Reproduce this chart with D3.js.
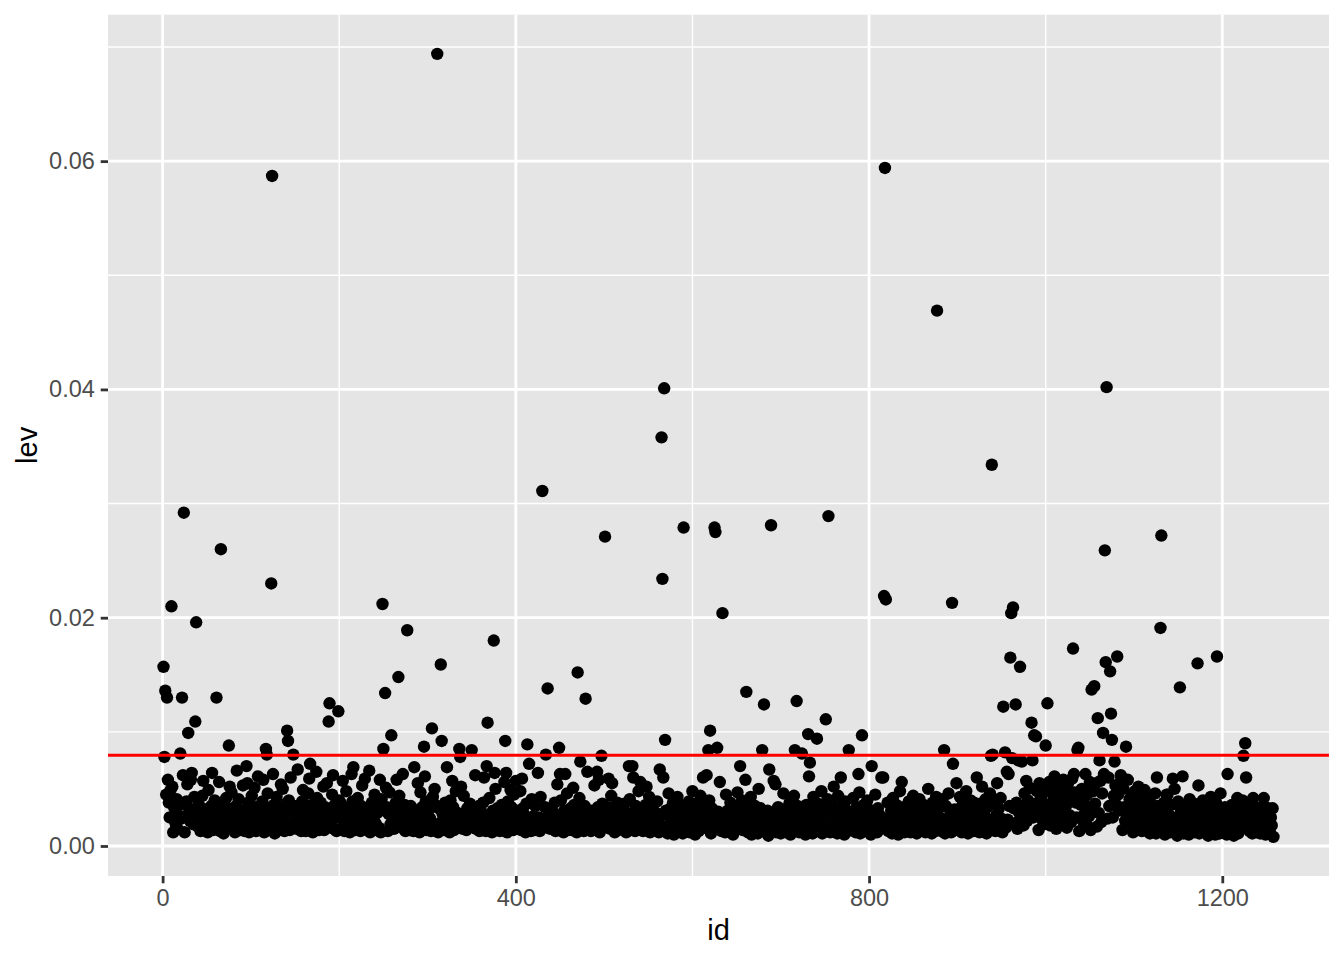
<!DOCTYPE html>
<html>
<head>
<meta charset="utf-8">
<script src="https://cdn.jsdelivr.net/npm/d3@7"></script>
<style>
  body { margin: 0; background: #fff; }
  text { font-family: "Liberation Sans", Arial, sans-serif; }
</style>
</head>
<body>
<svg id="chart" width="1344" height="960"></svg>
<script>
// leverage of the bulk of observations, ids 1..1258, in units of 1e-4
const bandLev = [
  32,18,27,45,21,58,38,25,49,29,52,12,34,22,19,41,15,27,36,63,
  24,48,62,31,12,26,39,54,15,33,22,58,14,28,19,43,25,11,30,17,
  36,21,13,27,44,57,24,15,32,20,12,49,26,17,35,64,14,29,40,19,
  15,30,22,56,13,61,18,37,11,28,21,42,16,33,24,52,26,47,19,31,
  27,12,35,66,16,41,23,14,29,18,53,22,13,32,25,55,38,12,27,21,
  44,16,28,51,34,13,24,61,18,30,15,26,39,58,12,33,23,17,46,14,
  22,31,15,27,63,36,11,25,43,19,29,14,34,54,16,50,24,13,28,37,
  17,26,40,14,60,31,19,12,35,22,28,15,57,18,30,24,13,39,49,27,
  33,13,25,18,46,59,15,29,36,12,24,19,32,65,42,27,14,22,38,17,
  28,52,14,34,23,55,16,27,12,31,19,45,62,15,36,25,13,29,18,40,
  15,37,24,57,30,13,26,48,17,22,33,12,28,63,39,16,25,14,31,21,
  42,18,27,13,35,53,16,30,59,19,24,14,33,66,12,27,38,17,25,45,
  20,14,29,36,16,58,12,41,26,18,31,15,51,34,13,28,47,19,24,17,
  30,15,23,38,58,27,12,44,21,33,16,25,19,36,13,29,52,18,24,14,
  35,20,28,13,41,23,16,31,55,26,12,47,22,34,15,27,61,39,14,25,
  17,32,24,13,29,43,18,50,36,15,26,12,33,20,55,16,28,23,14,38,
  22,16,31,27,12,40,19,57,34,14,21,48,17,29,23,13,36,52,26,15,
  44,19,27,14,33,21,16,37,24,12,30,18,25,62,15,28,20,35,13,23,
  16,29,38,60,22,13,34,26,15,42,20,27,12,31,18,24,50,14,33,21,
  27,13,24,36,17,30,56,15,28,12,39,19,25,49,34,21,14,45,23,18,
  31,20,15,26,48,14,59,33,18,27,12,37,21,16,29,24,13,41,19,26,
  14,35,22,17,30,25,13,43,19,28,16,24,34,12,21,57,18,27,15,32,
  24,16,29,38,13,22,54,18,33,15,40,20,26,12,31,63,23,46,14,28,
  19,33,14,25,51,36,16,29,12,24,18,42,27,15,30,22,13,35,20,17,
  39,22,17,28,13,31,24,15,53,19,26,14,34,58,12,29,23,37,16,25,
  13,27,21,34,18,25,15,44,55,16,30,12,26,19,38,14,28,21,17,32,
  26,15,37,20,12,29,23,17,41,14,25,31,60,22,13,35,27,16,48,20,
  18,31,24,13,28,16,36,52,15,27,43,12,24,19,33,17,22,14,29,39,
  24,12,35,18,29,9,41,22,15,31,27,11,46,19,33,14,25,38,10,21,
  30,16,43,23,13,36,20,28,11,52,17,26,34,14,22,39,12,31,18,48,
  15,27,10,37,21,32,13,24,44,18,29,9,35,16,26,62,20,14,40,23,
  11,33,19,28,14,41,22,10,30,17,56,25,13,36,20,27,12,45,18,31,
  26,13,38,16,24,10,34,21,29,15,47,19,32,11,25,40,14,22,17,58,
  20,36,12,27,17,43,10,30,23,14,35,19,26,11,50,21,33,16,28,13,
  39,15,24,18,31,9,42,22,13,29,16,37,20,54,12,26,34,17,23,11,
  28,14,46,19,25,12,33,21,16,38,10,27,23,15,44,18,30,13,35,20,
  12,31,17,40,22,14,28,10,36,19,26,65,15,32,21,11,43,24,16,29,
  18,37,13,25,20,48,11,30,16,34,23,14,41,19,27,12,38,22,15,52,
  33,16,26,11,44,21,29,14,35,18,24,10,39,20,31,13,57,23,17,27,
  14,42,19,28,12,34,22,16,47,11,30,25,18,36,13,26,20,40,15,32,
  23,10,37,17,29,14,45,21,12,33,19,27,15,60,24,11,35,18,28,16,
  38,13,25,20,31,11,42,17,26,14,36,22,10,29,48,16,24,19,34,12,
  27,18,33,14,39,21,12,30,16,44,23,15,35,11,26,20,41,13,28,17,
  15,36,22,12,28,18,50,14,31,24,11,38,19,27,13,43,21,16,33,25,
  20,13,41,17,30,11,35,23,15,46,19,28,12,37,22,16,32,14,55,26,
  31,15,43,22,12,36,19,27,14,48,24,11,33,17,40,21,29,13,38,18,
  25,45,16,30,12,37,22,52,15,28,19,41,11,34,23,17,46,26,14,32,
  20,39,13,27,55,18,33,15,42,24,12,36,21,29,16,48,23,11,35,19,
  44,27,58,33,20,49,38,15,62,29,41,24,53,35,18,46,31,57,22,40,
  28,51,36,17,45,25,60,32,21,48,38,14,55,30,43,23,50,19,36,64,
  26,42,33,56,18,47,29,39,22,61,34,15,45,28,52,37,20,43,31,58,
  24,49,35,16,54,40,27,44,21,59,32,18,47,38,25,53,30,13,42,36,
  50,22,39,28,63,19,45,34,26,56,14,41,31,48,23,37,55,17,44,29,
  33,57,21,46,38,15,52,27,42,24,60,35,19,49,30,25,44,16,53,36,
  20,43,31,55,26,39,14,50,34,22,47,28,58,18,41,32,24,45,12,37,
  48,27,35,17,52,30,23,44,13,39,26,49,20,34,15,42,28,11,37,22,
  14,31,20,42,11,26,35,17,23,48,13,29,19,38,10,33,22,45,16,27,
  12,36,21,28,15,50,18,25,9,39,23,14,32,20,44,11,27,17,34,13,
  26,10,41,19,30,14,22,37,12,28,16,47,20,11,33,24,15,40,18,29,
  13,35,21,9,27,17,43,12,31,19,25,10,38,15,23,30,11,46,20,16,
  28,13,34,18,10,40,22,15,26,12,36,19,9,31,14,24,42,11,29,17,
  21,33,12,27,16,38,10,25,18,30,13,22,35,11,20,28,14,34,12,24,
  17,30,11,26,19,35,13,22,10,28,15,33,20,12,25,18,14,8
];

// observations standing out from the band
const peakIds = [
  1, 2, 3, 5, 10, 20, 22, 24, 29, 33, 37, 38, 61, 66, 75, 95, 117, 118, 123, 124,
  141, 142, 148, 153, 167, 188, 189, 199, 216, 249, 250, 252, 259, 267, 272, 277,
  285, 296, 305, 311, 315, 316, 322, 336, 337, 350, 367, 368, 375, 376, 388, 389,
  400, 413, 415, 425, 430, 434, 436, 449, 450, 470, 473, 479, 481, 492, 497, 501,
  505, 528, 532, 541, 563, 565, 566, 567, 568, 569, 590, 612, 618, 620, 625, 626,
  628, 634, 654, 661, 679, 681, 687, 689, 692, 716, 718, 724, 731, 732, 733, 741,
  751, 754, 768, 777, 788, 792, 803, 816, 817, 818, 819, 837, 877, 885, 894, 895,
  922, 938, 939, 940, 952, 954, 956, 958, 960, 961, 962, 963, 966, 969, 971, 973,
  984, 985, 987, 989, 1000, 1002, 1031, 1032, 1036, 1037, 1052, 1055, 1059, 1061,
  1065, 1066, 1067, 1068, 1069, 1073, 1074, 1075, 1078, 1081, 1082, 1085, 1086,
  1091, 1103, 1124, 1126, 1130, 1131, 1137, 1144, 1152, 1155, 1172, 1173, 1194,
  1206, 1223, 1224, 1226, 1227, 1235, 1247, 1257
];
const peakLev = [
  .0157, .0078, .0136, .0130, .0210, .0081, .0130, .0292, .0099, .0064, .0109, .0196, .0130, .0260, .0088, .0070, .0085, .0080, .0230, .0587,
  .0101, .0092, .0080, .0067, .0072, .0109, .0125, .0118, .0069, .0212, .0085, .0134, .0097, .0148, .0063, .0189,
  .0069, .0087, .0103, .0694, .0159, .0092, .0069, .0085, .0078, .0084, .0070, .0108, .0180, .0064, .0092, .0064,
  .0057, .0089, .0072, .0064, .0311, .0080, .0138, .0086, .0063, .0152, .0074, .0129, .0065, .0065, .0079, .0271,
  .0059, .0070, .0070, .0056, .0067, .0358, .0234, .0060, .0401, .0093, .0279, .0060, .0084, .0101, .0279, .0275,
  .0086, .0204, .0070, .0135, .0084, .0124, .0067, .0281, .0057, .0084, .0127, .0081, .0098, .0061, .0073, .0094,
  .0111, .0289, .0060, .0084, .0063, .0097, .0070, .0060, .0219, .0594, .0216, .0056, .0469, .0084, .0213, .0072,
  .0060, .0079, .0334, .0080, .0122, .0082, .0065, .0063, .0165, .0204, .0077, .0209, .0124, .0075, .0157, .0074,
  .0108, .0075, .0097, .0096, .0088, .0125, .0173, .0063, .0084, .0086, .0137, .0140, .0112, .0075,
  .0099, .0063, .0259, .0161, .0402, .0153, .0116, .0093, .0074, .0166, .0045, .0062, .0060,
  .0087, .0048, .0046, .0060, .0191, .0272, .0045, .0059, .0139, .0061, .0160, .0053, .0166,
  .0063, .0040, .0079, .0090, .0060, .0042, .0042, .0033
];

// cut-off drawn as the red line (2p/n)
const cutoff = [0.00795];
const xTicks = [0, 400, 800, 1200];
const xMinor = [200, 600, 1000];
const yTicks = [0, 0.02, 0.04, 0.06];
const yMinor = [0.01, 0.03, 0.05, 0.07];

// build the data: every id gets its band value unless it is a peak
const peakMap = new Map(peakIds.map((id, i) => [id, peakLev[i]]));
const data = bandLev.map((v, i) => {
  const id = i + 1;
  return { id: id, lev: peakMap.has(id) ? peakMap.get(id) : v / 10000 };
});

const svg = d3.select("#chart");
const panel = { left: 108, right: 1329, top: 14.7, bottom: 876 };

// ggplot-like 5% expansion of the data range
function expand(ext) {
  const d = (ext[1] - ext[0]) * 0.05;
  return [ext[0] - d, ext[1] + d];
}

const x = d3.scaleLinear()
  .domain(expand(d3.extent(data, (d) => d.id)))
  .range([panel.left, panel.right]);
const y = d3.scaleLinear()
  .domain(expand(d3.extent(data, (d) => d.lev)))
  .range([panel.bottom, panel.top]);

// panel background
svg.append("rect")
  .attr("x", panel.left)
  .attr("y", panel.top)
  .attr("width", panel.right - panel.left)
  .attr("height", panel.bottom - panel.top)
  .attr("fill", "#E5E5E5");

const grid = svg.append("g").attr("stroke", "#fff");

grid.selectAll(".xminor")
  .data(xMinor)
  .enter()
  .append("line")
  .attr("x1", (d) => x(d)).attr("x2", (d) => x(d))
  .attr("y1", panel.top).attr("y2", panel.bottom)
  .attr("stroke-width", 1.4);

grid.selectAll(".yminor")
  .data(yMinor.filter((d) => y(d) > panel.top))
  .enter()
  .append("line")
  .attr("y1", (d) => y(d)).attr("y2", (d) => y(d))
  .attr("x1", panel.left).attr("x2", panel.right)
  .attr("stroke-width", 1.4);

grid.selectAll(".xmajor")
  .data(xTicks)
  .enter()
  .append("line")
  .attr("x1", (d) => x(d)).attr("x2", (d) => x(d))
  .attr("y1", panel.top).attr("y2", panel.bottom)
  .attr("stroke-width", 2.8);

grid.selectAll(".ymajor")
  .data(yTicks)
  .enter()
  .append("line")
  .attr("y1", (d) => y(d)).attr("y2", (d) => y(d))
  .attr("x1", panel.left).attr("x2", panel.right)
  .attr("stroke-width", 2.8);

// points
svg.append("g")
  .selectAll("circle")
  .data(data)
  .enter()
  .append("circle")
  .attr("cx", (d) => x(d.id))
  .attr("cy", (d) => y(d.lev))
  .attr("r", 6.2)
  .attr("fill", "#000");

// cut-off line
svg.selectAll(".cutoff")
  .data(cutoff)
  .enter()
  .append("line")
  .attr("x1", panel.left).attr("x2", panel.right)
  .attr("y1", (d) => y(d)).attr("y2", (d) => y(d))
  .attr("stroke", "#FF0000")
  .attr("stroke-width", 2.8);

// axes
const xAxis = d3.axisBottom(x)
  .tickValues(xTicks)
  .tickFormat(d3.format("d"))
  .tickSizeInner(7.3)
  .tickSizeOuter(0)
  .tickPadding(5.9);
const yAxis = d3.axisLeft(y)
  .tickValues(yTicks)
  .tickFormat(d3.format(".2f"))
  .tickSizeInner(7.3)
  .tickSizeOuter(0)
  .tickPadding(5.9);

function styleAxis(g) {
  g.select(".domain").remove();
  g.selectAll(".tick line").attr("stroke", "#333333").attr("stroke-width", 2.8);
  g.selectAll(".tick text")
    .attr("fill", "#4D4D4D")
    .style("font-size", "23.5px")
    .style("font-family", "'Liberation Sans', Arial, sans-serif");
}

svg.append("g")
  .attr("transform", `translate(0,${panel.bottom})`)
  .call(xAxis)
  .call(styleAxis);

svg.append("g")
  .attr("transform", `translate(${panel.left},0)`)
  .call(yAxis)
  .call(styleAxis);

// axis titles
svg.append("text")
  .attr("x", (panel.left + panel.right) / 2)
  .attr("y", 940)
  .attr("text-anchor", "middle")
  .style("font-size", "29px")
  .attr("fill", "#000")
  .text("id");

svg.append("text")
  .attr("transform", `translate(37,${(panel.top + panel.bottom) / 2}) rotate(-90)`)
  .attr("text-anchor", "middle")
  .style("font-size", "29px")
  .attr("fill", "#000")
  .text("lev");
</script>
</body>
</html>
